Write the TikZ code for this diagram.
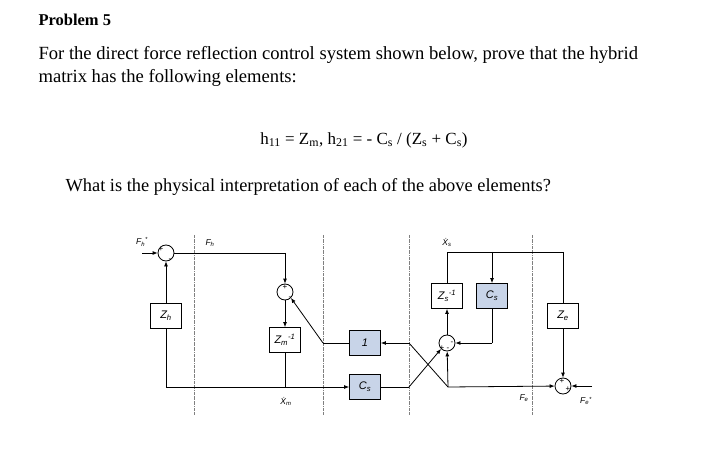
\documentclass[tikz,border=0pt]{standalone}
\usepackage{fontspec}
\setmainfont{Liberation Serif}
\newfontfamily\dsans{Liberation Sans}
\usetikzlibrary{arrows.meta}
\begin{document}
\begin{tikzpicture}[x=1pt,y=-1pt,
  blk/.style={draw,thick,minimum width=31pt,minimum height=25pt,inner sep=0pt,font=\dsans\itshape\fontsize{11}{11}\selectfont},
  blu/.style={blk,fill={rgb,255:red,200;green,212;blue,232}},
  sm/.style={draw,thick,circle,minimum size=16pt,inner sep=0pt},
  ln/.style={thick},
  ar/.style={thick,-{Latex[length=5pt,width=4pt]}},
  dsh/.style={gray,densely dashdotted,thin},
  lb/.style={font=\dsans\itshape\fontsize{8.5}{8.5}\selectfont,inner sep=0pt},
  sg/.style={font=\dsans\fontsize{8}{8}\selectfont,inner sep=0pt}]
\useasboundingbox (0,0) rectangle (723,473);
\node[anchor=west,font=\bfseries\fontsize{16.5}{18}\selectfont] (t0) at (35,20) {Problem 5};
\node[anchor=west,font=\fontsize{18.6}{20}\selectfont] (t1) at (35,55) {For the direct force reflection control system shown below, prove that the hybrid};
\node[anchor=west,font=\fontsize{18.6}{20}\selectfont] (t2) at (35,78) {matrix has the following elements:};
\node[font=\fontsize{17}{20}\selectfont] (t3) at (364,140) {h\textsubscript{11} = Z\textsubscript{m}, h\textsubscript{21} = - C\textsubscript{s} / (Z\textsubscript{s} + C\textsubscript{s})};
\node[anchor=west,font=\fontsize{18.4}{20}\selectfont] (t4) at (62,187) {What is the physical interpretation of each of the above elements?};
% dashed
\foreach \x in {194,323,409,532} \draw[dsh] (\x,235) -- (\x,415);
% nodes
\node[sm] (s1) at (166,253) {};
\node[sm] (s2) at (285,292) {};
\node[sm] (s3) at (447,343) {};
\node[sm] (s4) at (563,386) {};
\node[blk] (zh) at (166,316) {Z\textsubscript{h}};
\node[blk] (zm) at (285,340) {Z\textsubscript{m}\textsuperscript{-1}};
\node[blu] (one) at (365,343) {1};
\node[blu] (cs1) at (365,387) {C\textsubscript{s}};
\node[blk] (zs) at (447,296) {Z\textsubscript{s}\textsuperscript{-1}};
\node[blu] (cs2) at (492,296) {C\textsubscript{s}};
\node[blk] (ze) at (563,316) {Z\textsubscript{e}};
\coordinate (fin) at (142,253);
\coordinate (fein) at (592,386);
\coordinate (a1) at (285,253);
\coordinate (xm) at (285,387);
\coordinate (bl) at (166,387);
\coordinate (k1) at (323,343);
\coordinate (r1) at (409,343);
\coordinate (r2) at (409,387);
\coordinate (x0) at (448,387);
\coordinate (xs) at (447,252);
\coordinate (xc) at (492,252);
\coordinate (xe) at (563,252);
\coordinate (cb) at (492,343);
% connectors
\draw[ar] (fin) -- (s1);
\draw[ln] (s1) -- (a1);
\draw[ar] (a1) -- (s2);
\draw[ar] (zh) -- (s1);
\draw[ln] (zh) -- (bl) -- (xm);
\draw[ar] (xm) -- (cs1);
\draw[ar] (s2) -- (zm);
\draw[ln] (zm) -- (xm);
\draw[ln] (one) -- (k1);
\draw[ar] (k1) -- (s2.-45);
\draw[ar] (r1) -- (one);
\draw[ln] (r1) -- (x0);
\draw[ln] (cs1) -- (r2);
\draw[ar] (r2) -- (s3.-135);
\draw[ar] (x0) -- (s3);
\draw[ar] (x0) -- (s4);
\draw[ar] (s3) -- (zs);
\draw[ln] (zs) -- (xs) -- (xe);
\draw[ar] (xc) -- (cs2);
\draw[ln] (cs2) -- (cb);
\draw[ar] (cb) -- (s3);
\draw[ln] (xe) -- (ze);
\draw[ar] (ze) -- (s4);
\draw[ar] (fein) -- (s4);
% labels
\node[lb] (lfh) at (142,242) {F\textsubscript{h}\textsuperscript{*}};
\node[lb] (lf2) at (210,243) {F\textsubscript{h}};
\node[lb] (lxm) at (286,401) {\.{X}\textsubscript{m}};
\node[lb] (lxs) at (447,242) {\.{X}\textsubscript{s}};
\node[lb] (lfe) at (524,398) {F\textsubscript{e}};
\node[lb] (lfe2) at (586,401) {F\textsubscript{e}\textsuperscript{*}};
% signs
\node[sg] at (161,249) {+};
\node[sg] at (170,260) {-};
\node[sg] at (285,287) {+};
\node[sg] at (290,298) {-};
\node[sg] at (452,343) {-};
\node[sg] at (442,348) {+};
\node[sg] at (448,349) {-};
\node[sg] at (562,381) {+};
\node[sg] at (568,389) {+};
\end{tikzpicture}
\end{document}
